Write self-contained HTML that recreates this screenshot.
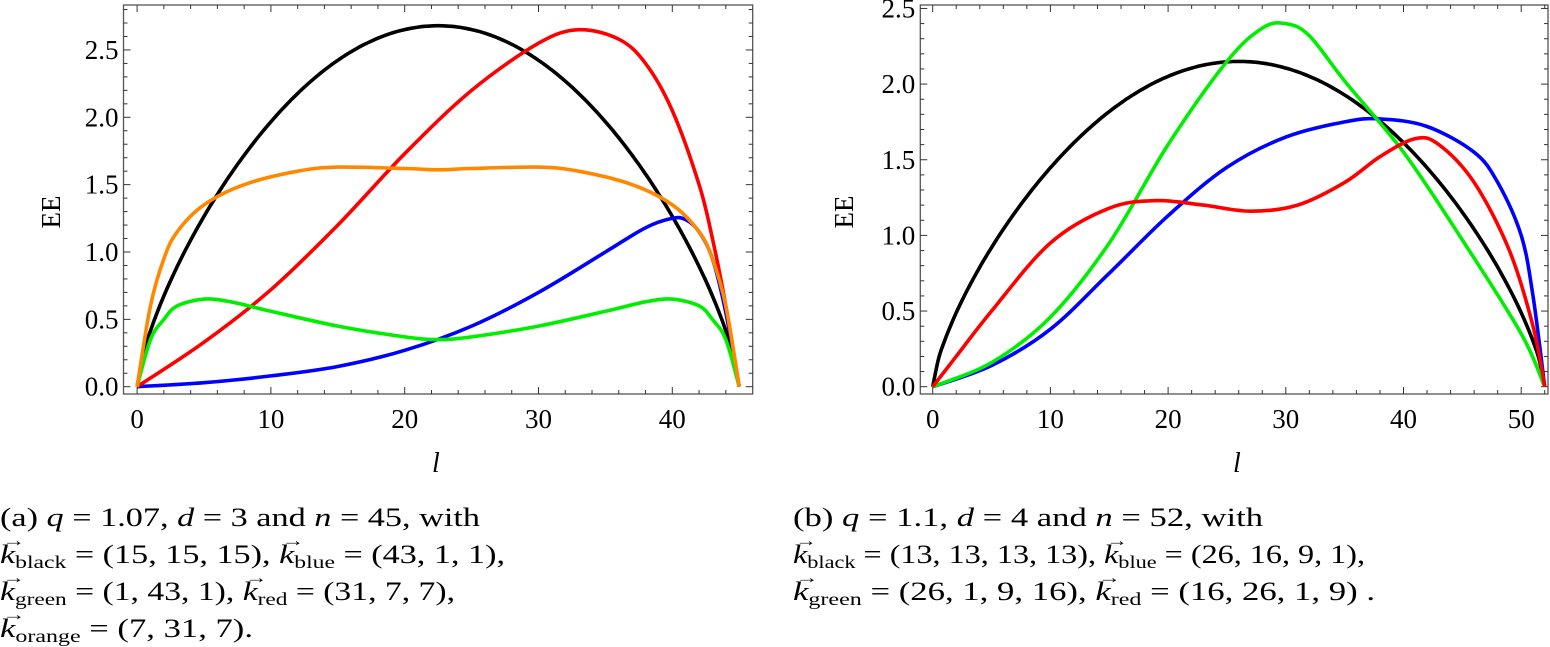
<!DOCTYPE html>
<html><head><meta charset="utf-8"><style>
html,body{margin:0;padding:0;background:#fff;}
svg{display:block;position:absolute;left:0;top:0;}
text{font-family:"Liberation Serif",serif;fill:#000;}
.cap{position:absolute;font-family:"Liberation Serif",serif;font-size:26px;white-space:nowrap;line-height:30px;transform-origin:0 0;}
.k{position:relative;font-style:italic;display:inline-block;}
.k::before{content:"\2192";position:absolute;left:2px;top:-14px;font-size:17px;font-style:normal;}
sub{font-size:18px;vertical-align:-5px;line-height:0;}
i{font-style:italic;}
</style></head><body>
<svg id="s" width="1550" height="647" viewBox="0 0 1550 647" xmlns="http://www.w3.org/2000/svg"><g id="g"></g></svg>
<div class="cap" data-w="480" style="left:0;top:503px">(a) <i>q</i> = 1.07, <i>d</i> = 3 and <i>n</i> = 45, with</div>
<div class="cap" data-w="505" style="left:0;top:540px"><span class="k">k</span><sub>black</sub> = (15, 15, 15), <span class="k">k</span><sub>blue</sub> = (43, 1, 1),</div>
<div class="cap" data-w="455" style="left:0;top:577px"><span class="k">k</span><sub>green</sub> = (1, 43, 1), <span class="k">k</span><sub>red</sub> = (31, 7, 7),</div>
<div class="cap" data-w="253" style="left:0;top:614px"><span class="k">k</span><sub>orange</sub> = (7, 31, 7).</div>
<div class="cap" data-w="470" style="left:793px;top:503px">(b) <i>q</i> = 1.1, <i>d</i> = 4 and <i>n</i> = 52, with</div>
<div class="cap" data-w="572" style="left:793px;top:540px"><span class="k">k</span><sub>black</sub> = (13, 13, 13, 13), <span class="k">k</span><sub>blue</sub> = (26, 16, 9, 1),</div>
<div class="cap" data-w="582" style="left:793px;top:577px"><span class="k">k</span><sub>green</sub> = (26, 1, 9, 16), <span class="k">k</span><sub>red</sub> = (16, 26, 1, 9) .</div>
<script>
document.querySelectorAll('.cap').forEach(c=>{const w=c.getBoundingClientRect().width;c.style.transform='scaleX('+(c.dataset.w/w)+')';});
const NS="http://www.w3.org/2000/svg",G=document.getElementById('g');
function el(t,a,txt){const e=document.createElementNS(NS,t);for(const k in a)e.setAttribute(k,a[k]);if(txt!==undefined)e.textContent=txt;G.appendChild(e);return e;}
function spline(pts){let d='M'+pts[0][0].toFixed(1)+','+pts[0][1].toFixed(1);
for(let i=0;i<pts.length-1;i++){const p0=pts[Math.max(0,i-1)],p1=pts[i],p2=pts[i+1],p3=pts[Math.min(pts.length-1,i+2)];
const c1=[p1[0]+(p2[0]-p0[0])/6,p1[1]+(p2[1]-p0[1])/6],c2=[p2[0]-(p3[0]-p1[0])/6,p2[1]-(p3[1]-p1[1])/6];
d+=' C'+c1.map(v=>v.toFixed(1))+' '+c2.map(v=>v.toFixed(1))+' '+p2[0].toFixed(1)+','+p2[1].toFixed(1);}return d;}
function plot(P){
 const X=v=>P.x0+v*P.sx, Y=v=>P.y0-v*P.sy;
 el('rect',{x:P.L,y:5,width:P.R-P.L,height:389,fill:'none',stroke:'#555','stroke-width':1.3});
 for(let v=0;v<=P.xmax;v+=2){const maj=v%10==0,l=maj?7:4,x=X(v);
  el('line',{x1:x,y1:394,x2:x,y2:394-l,stroke:'#333','stroke-width':1});
  el('line',{x1:x,y1:5,x2:x,y2:5+l,stroke:'#333','stroke-width':1});
  if(maj)el('text',{x:x,y:428,'font-size':27,'text-anchor':'middle'},String(v));}
 for(let i=0;i<=P.ymax*10+0.01;i++){const v=i/10,y=Y(v);if(y<5)continue;const maj=i%5==0,l=maj?7:4;
  el('line',{x1:P.L,y1:y,x2:P.L+l,y2:y,stroke:'#333','stroke-width':1});
  el('line',{x1:P.R,y1:y,x2:P.R-l,y2:y,stroke:'#333','stroke-width':1});
  if(maj)el('text',{x:P.L-5,y:y+9,'font-size':27,'text-anchor':'end'},v.toFixed(1));}
 el('text',{x:P.lx,y:472,'font-size':28,'font-style':'italic'},'l');
 el('text',{x:0,y:0,'font-size':27,transform:`translate(${P.ex},212) rotate(-90)`,'text-anchor':'middle'},'EE');
 for(const s of P.series){el('path',{d:spline(s.p.map(q=>[X(q[0]),Y(q[1])])),fill:'none',stroke:s.c,'stroke-width':3.6,'stroke-linejoin':'round'});}
}
function blk(n,h){const a=[];for(let j=0;j<=2*n;j++){const i=j/2;a.push([i,h*Math.pow(Math.max(0,Math.sin(Math.PI*i/n)),0.7)]);}return a;}
plot({L:123.5,R:752.7,x0:137.1,sx:13.38,y0:386.7,sy:134.7,xmax:45,ymax:2.8,lx:432,ex:60,series:[
{c:'#000',p:blk(45,2.68)},
{c:'#0000ff',p:[[0,0],[5,0.03],[10,0.08],[15,0.15],[20,0.27],[25,0.45],[30,0.7],[35,1.0],[38,1.18],[40,1.25],[41,1.24],[42,1.15],[43,0.95],[44,0.55],[45,0]]},
{c:'#ff0000',p:[[0,0],[5,0.33],[10,0.72],[15,1.2],[20,1.73],[25,2.2],[30,2.55],[33,2.65],[36,2.58],[38,2.4],[40,2.05],[42,1.5],[43,1.1],[44,0.6],[45,0]]},
{c:'#00ee00',p:[[0,0],[1,0.35],[2,0.5],[3,0.6],[5,0.65],[7,0.63],[10,0.56],[15,0.45],[20,0.37],[22.5,0.35],[25,0.37],[30,0.45],[35,0.56],[38,0.63],[40,0.65],[42,0.6],[43,0.5],[44,0.35],[45,0]]},
{c:'#ff8800',p:[[0,0],[1,0.6],[2,0.95],[3,1.15],[5,1.35],[8,1.5],[12,1.6],[15,1.63],[20,1.62],[22.5,1.61],[25,1.62],[30,1.63],[33,1.6],[37,1.5],[40,1.35],[42,1.15],[43,0.95],[44,0.6],[45,0]]}
]});
plot({L:920.3,R:1548,x0:932.7,sx:11.77,y0:386.7,sy:151.3,xmax:52,ymax:2.5,lx:1233,ex:853,series:[
{c:'#000',p:blk(52,2.15)},
{c:'#0000ff',p:[[0,0],[5,0.14],[10,0.38],[15,0.75],[20,1.13],[25,1.45],[30,1.65],[35,1.75],[38,1.77],[42,1.72],[46,1.55],[48,1.35],[50,1.0],[51,0.6],[52,0]]},
{c:'#00ee00',p:[[0,0],[5,0.16],[10,0.46],[15,0.95],[20,1.6],[25,2.15],[28,2.37],[30,2.4],[32,2.32],[35,2.02],[40,1.55],[45,0.97],[50,0.35],[52,0]]},
{c:'#ff0000',p:[[0,0],[2,0.2],[5,0.5],[10,0.95],[15,1.18],[19,1.23],[23,1.2],[27,1.16],[31,1.2],[35,1.35],[38,1.52],[41,1.64],[43,1.6],[46,1.35],[49,0.9],[51,0.4],[52,0]]}
]});
</script>
</body></html>
